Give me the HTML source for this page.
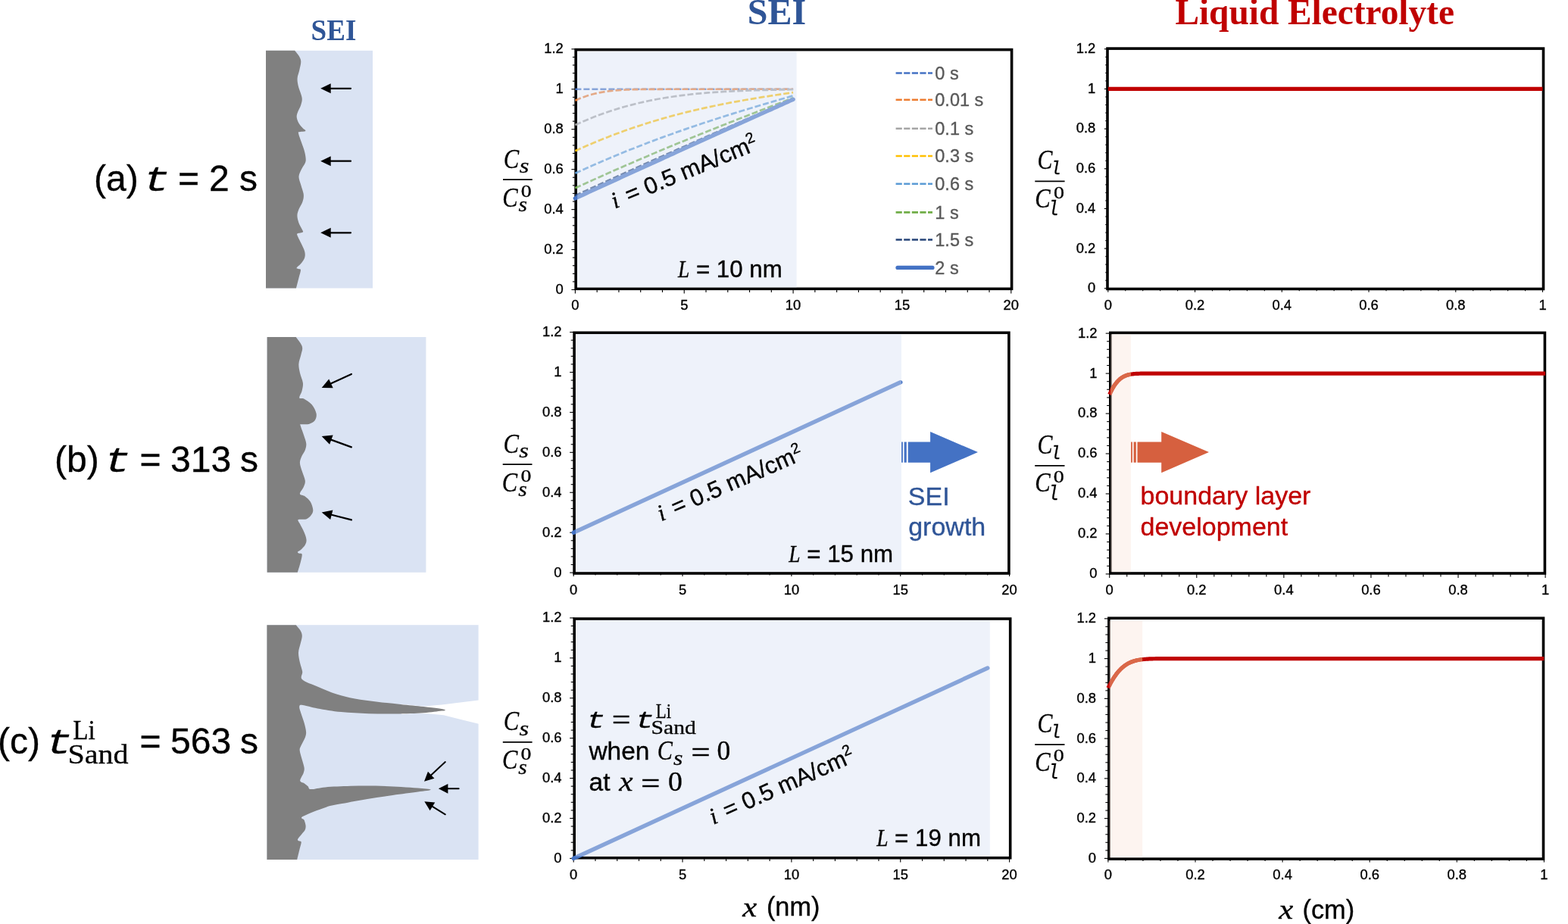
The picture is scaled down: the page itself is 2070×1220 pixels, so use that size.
<!DOCTYPE html>
<html><head><meta charset="utf-8"><title>SEI and liquid electrolyte concentration profiles</title>
<style>html,body{margin:0;padding:0;background:#fff;width:2070px;height:1220px;overflow:hidden;} svg{display:block;}</style></head>
<body><svg width="2070" height="1220" viewBox="0 0 2070 1220">
<rect width="2070" height="1220" fill="#fff"/>
<rect x="351" y="66.8" width="141" height="313.7" fill="#DAE3F3"/><path d="M351,66.8 L389.2,66.8 C390.22,68.15 393.95,72.43 395.3,74.9 C396.65,77.37 397.3,78.68 397.3,81.6 C397.3,84.52 396.08,88.8 395.3,92.4 C394.52,96 392.83,99.58 392.6,103.2 C392.37,106.82 392.9,109.82 393.9,114.1 C394.9,118.38 398.03,124.85 398.6,128.9 C399.17,132.95 398.3,135.02 397.3,138.4 C396.3,141.78 393.5,146.27 392.6,149.2 C391.7,152.13 391.45,153.52 391.9,156 C392.35,158.48 393.95,161.85 395.3,164.1 C396.65,166.35 398.65,168.15 400,169.5 C401.35,170.85 403.15,171.52 403.4,172.2 C403.65,172.88 402.85,173.27 401.5,173.6 C400.15,173.93 396.57,173.88 395.3,174.2 C394.03,174.52 393.68,173.82 393.9,175.5 C394.12,177.18 395.35,180.58 396.6,184.3 C397.85,188.02 400.23,193.75 401.4,197.8 C402.57,201.85 403.35,205.73 403.6,208.6 C403.85,211.47 403.83,212.53 402.9,215 C401.97,217.47 399.4,220.38 398,223.4 C396.6,226.42 394.62,229.63 394.5,233.1 C394.38,236.57 396.25,240.25 397.3,244.2 C398.35,248.15 400.45,253.08 400.8,256.8 C401.15,260.52 400.45,263.25 399.4,266.5 C398.35,269.75 395.67,273.28 394.5,276.3 C393.33,279.32 392.4,281.58 392.4,284.6 C392.4,287.62 393.45,291.38 394.5,294.4 C395.55,297.42 397.82,300.67 398.7,302.7 C399.58,304.73 400.73,305.67 399.8,306.6 C398.87,307.53 394.33,307.67 393.1,308.3 C391.87,308.93 391.7,308.32 392.4,310.4 C393.1,312.48 395.67,317.2 397.3,320.8 C398.93,324.4 401.38,328.75 402.2,332 C403.02,335.25 402.9,337.75 402.2,340.3 C401.5,342.85 399.75,345.08 398,347.3 C396.25,349.52 392.4,352.32 391.7,353.6 C391,354.88 392.92,354.53 393.8,355 C394.68,355.47 396.88,354.43 397,356.4 C397.12,358.37 395.5,362.78 394.5,366.8 C393.5,370.82 391.58,378.22 391,380.5 L351,380.5 Z" fill="#808080"/>
<line x1="463" y1="116.8" x2="435.7" y2="116.8" stroke="#000" stroke-width="2.2" stroke-linecap="round"/><polygon points="423.2,116.8 436.7,110.3 436.7,123.3" fill="#000"/>
<line x1="463" y1="212.7" x2="435.7" y2="212.7" stroke="#000" stroke-width="2.2" stroke-linecap="round"/><polygon points="423.2,212.7 436.7,206.2 436.7,219.2" fill="#000"/>
<line x1="463" y1="307.3" x2="435.7" y2="307.3" stroke="#000" stroke-width="2.2" stroke-linecap="round"/><polygon points="423.2,307.3 436.7,300.8 436.7,313.8" fill="#000"/>
<rect x="352.6" y="445" width="209.8" height="310.8" fill="#DAE3F3"/><path d="M352.6,445 L390.7,445 C391.68,446.35 395.18,450.65 396.6,453.1 C398.02,455.55 399.08,457.08 399.2,459.7 C399.32,462.32 398.1,465.32 397.3,468.8 C396.5,472.28 394.62,476.67 394.4,480.6 C394.18,484.53 395.08,488.25 396,492.4 C396.92,496.55 399.47,501.57 399.9,505.5 C400.33,509.43 399.37,512.72 398.6,516 C397.83,519.28 394.87,523.45 395.3,525.2 C395.73,526.95 398.47,524.98 401.2,526.5 C403.93,528.02 408.97,531.03 411.7,534.3 C414.43,537.57 416.95,542.6 417.6,546.1 C418.25,549.6 417.23,553 415.6,555.3 C413.97,557.6 410.85,559.07 407.8,559.9 C404.75,560.73 399.17,559.98 397.3,560.3 C395.43,560.62 395.95,559.37 396.6,561.8 C397.25,564.23 399.92,570.87 401.2,574.9 C402.48,578.93 404.08,582.65 404.3,586 C404.52,589.35 403.47,592.33 402.5,595 C401.53,597.67 399.6,599.35 398.5,602 C397.4,604.65 395.87,607.57 395.9,610.9 C395.93,614.23 397.55,618.07 398.7,622 C399.85,625.93 402.45,631.02 402.8,634.5 C403.15,637.98 401.95,639.98 400.8,642.9 C399.65,645.82 395.57,649.92 395.9,652 C396.23,654.08 400.48,653.67 402.8,655.4 C405.12,657.13 408.05,659.38 409.8,662.4 C411.55,665.42 413.18,670.48 413.3,673.5 C413.42,676.52 412.02,678.52 410.5,680.5 C408.98,682.48 406.98,684.47 404.2,685.4 C401.42,686.33 395.18,685.07 393.8,686.1 C392.42,687.13 394.62,688.82 395.9,691.6 C397.18,694.38 400.07,699.32 401.5,702.8 C402.93,706.28 404.28,709.72 404.5,712.5 C404.72,715.28 404,717.3 402.8,719.5 C401.6,721.7 398.92,724.2 397.3,725.7 C395.68,727.2 393.57,727.68 393.1,728.5 C392.63,729.32 393.57,730.02 394.5,730.6 C395.43,731.18 398.35,729.92 398.7,732 C399.05,734.08 397.58,739.13 396.6,743.1 C395.62,747.07 393.43,753.68 392.8,755.8 L352.6,755.8 Z" fill="#808080"/>
<line x1="463.9" y1="493.9" x2="436.05" y2="506.76" stroke="#000" stroke-width="2.2" stroke-linecap="round"/><polygon points="424.7,512 434.23,500.44 439.68,512.24" fill="#000"/>
<line x1="463.9" y1="590.4" x2="436.44" y2="580.38" stroke="#000" stroke-width="2.2" stroke-linecap="round"/><polygon points="424.7,576.1 439.61,574.62 435.15,586.83" fill="#000"/>
<line x1="463.9" y1="686.4" x2="436.81" y2="679.49" stroke="#000" stroke-width="2.2" stroke-linecap="round"/><polygon points="424.7,676.4 439.39,673.44 436.17,686.04" fill="#000"/>
<rect x="352.4" y="825.2" width="279.2" height="309.8" fill="#DAE3F3"/><path d="M632,924.4 L607.4,927.4 L583.2,930.5 L559,932.4 L530,929.8 L530,943 L547,941.9 L565.1,942.2 L585.7,944.3 L607.4,949.8 L632,955.8 Z" fill="#fff"/><path d="M352.4,825.2 L390.7,825.2 C391.68,826.4 395.25,829.98 396.6,832.4 C397.95,834.82 398.8,836.75 398.8,839.7 C398.8,842.65 397.4,846.4 396.6,850.1 C395.8,853.8 394.1,857.75 394,861.9 C393.9,866.05 395.13,870.85 396,875 C396.87,879.15 398.68,883.1 399.2,886.8 C399.72,890.5 395.6,893.85 399.1,897.2 C402.6,900.55 412.67,903.67 420.2,906.9 C427.73,910.13 436.25,913.98 444.3,916.6 C452.35,919.22 459.43,920.9 468.5,922.6 C477.57,924.3 488.63,925.58 498.7,926.8 C508.77,928.02 518.83,928.88 528.9,929.9 C538.97,930.92 550.85,932 559.1,932.9 C567.35,933.8 573.67,934.57 578.4,935.3 C583.13,936.03 586.7,936.75 587.5,937.3 C588.3,937.85 587.93,937.93 583.2,938.6 C578.47,939.27 569.17,940.65 559.1,941.3 C549.03,941.95 534.88,942.35 522.8,942.5 C510.72,942.65 498.67,942.6 486.6,942.2 C474.53,941.8 461.62,941.23 450.4,940.1 C439.18,938.97 427.75,936.92 419.3,935.4 C410.85,933.88 403.72,931.4 399.7,931 C395.68,930.6 395.53,931.03 395.2,933 C394.87,934.97 396.63,939.2 397.7,942.8 C398.77,946.4 400.53,950.67 401.6,954.6 C402.67,958.53 403.93,963.12 404.1,966.4 C404.27,969.68 403.75,971.18 402.6,974.3 C401.45,977.42 398.35,982.32 397.2,985.1 C396.05,987.88 395.45,988.05 395.7,991 C395.95,993.95 397.72,999.03 398.7,1002.8 C399.68,1006.57 401.27,1010.65 401.6,1013.6 C401.93,1016.55 401.6,1017.63 400.7,1020.5 C399.8,1023.37 396.05,1028.5 396.2,1030.8 C396.35,1033.1 399.87,1033.07 401.6,1034.3 C403.33,1035.53 405.12,1036.9 406.6,1038.2 C408.08,1039.5 406.7,1041.9 410.5,1042.1 C414.3,1042.3 420.68,1040.12 429.4,1039.4 C438.12,1038.68 451.68,1038.1 462.8,1037.8 C473.92,1037.5 485,1037.42 496.1,1037.6 C507.2,1037.78 520.13,1038.4 529.4,1038.9 C538.67,1039.4 545.12,1039.95 551.7,1040.6 C558.28,1041.25 568.9,1041.97 568.9,1042.8 C568.9,1043.63 560.13,1044.4 551.7,1045.6 C543.27,1046.8 529.42,1048.43 518.3,1050 C507.18,1051.57 496.1,1053.15 485,1055 C473.9,1056.85 460.87,1059.28 451.7,1061.1 C442.53,1062.92 438.67,1063.08 430,1065.9 C421.33,1068.72 404.42,1075.15 399.7,1078 C394.98,1080.85 401.05,1080.97 401.7,1083 C402.35,1085.03 403.45,1088.02 403.6,1090.2 C403.75,1092.38 403.47,1094.25 402.6,1096.1 C401.73,1097.95 399.98,1099.33 398.4,1101.3 C396.82,1103.27 393.77,1106.42 393.1,1107.9 C392.43,1109.38 393.63,1109.55 394.4,1110.2 C395.17,1110.85 397.48,1110.1 397.7,1111.8 C397.92,1113.5 396.62,1116.53 395.7,1120.4 C394.78,1124.27 392.78,1132.57 392.2,1135 L352.4,1135 Z" fill="#808080"/>
<line x1="587.8" y1="1006.1" x2="568.46" y2="1023.91" stroke="#000" stroke-width="2" stroke-linecap="round"/><polygon points="560,1031.7 564.96,1018.63 573.43,1027.83" fill="#000"/>
<line x1="605.6" y1="1041.3" x2="590.4" y2="1041.3" stroke="#000" stroke-width="2" stroke-linecap="round"/><polygon points="578.9,1041.3 591.4,1034.9 591.4,1047.7" fill="#000"/>
<line x1="587.8" y1="1075.3" x2="570.08" y2="1064.35" stroke="#000" stroke-width="2" stroke-linecap="round"/><polygon points="560.3,1058.3 574.22,1059.56 567.65,1070.19" fill="#000"/>
<text x="986.7" y="32.2" font-family="'Liberation Serif', 'Times New Roman', Times, serif" font-weight="bold" font-size="48" fill="#2F5597">SEI</text>
<text transform="translate(1551.4,32.2) scale(0.986,1)" font-family="'Liberation Serif', 'Times New Roman', Times, serif" font-weight="bold" font-size="48" fill="#C00000">Liquid Electrolyte</text>
<text transform="translate(410.6,52.85) scale(0.95,1)" font-family="'Liberation Serif', 'Times New Roman', Times, serif" font-weight="bold" font-size="39" fill="#2F5597">SEI</text>
<text y="252.2" font-family="'Liberation Sans', Arial, Helvetica, sans-serif" font-size="48" fill="#000" stroke="#000" stroke-width="0.35"><tspan x="124">(a)</tspan><tspan x="235">=</tspan><tspan x="276">2</tspan><tspan x="316">s</tspan></text>
<text transform="translate(188.83,252.34) scale(1.300,1)" font-family="'Liberation Mono', 'Courier New', monospace" font-style="italic" font-size="45.97" fill="#000" stroke="#000" stroke-width="0.3">t</text>
<text y="623" font-family="'Liberation Sans', Arial, Helvetica, sans-serif" font-size="48" fill="#000" stroke="#000" stroke-width="0.35"><tspan x="72">(b)</tspan><tspan x="184.5">=</tspan><tspan x="225">313</tspan><tspan x="317">s</tspan></text>
<text transform="translate(137.27,623.14) scale(1.300,1)" font-family="'Liberation Mono', 'Courier New', monospace" font-style="italic" font-size="45.52" fill="#000" stroke="#000" stroke-width="0.3">t</text>
<text y="995" font-family="'Liberation Sans', Arial, Helvetica, sans-serif" font-size="48" fill="#000" stroke="#000" stroke-width="0.35"><tspan x="-3">(c)</tspan><tspan x="184.5">=</tspan><tspan x="225">563</tspan><tspan x="317">s</tspan></text>
<text transform="translate(60.33,995.35) scale(1.300,1)" font-family="'Liberation Mono', 'Courier New', monospace" font-style="italic" font-size="45.37" fill="#000" stroke="#000" stroke-width="0.3">t</text>
<text transform="translate(96.20,976.40) scale(0.911,1)" font-family="'Liberation Serif', 'Times New Roman', Times, serif" font-style="normal" font-size="36.46" fill="#000" stroke="#000" stroke-width="0.3">Li</text>
<text transform="translate(89.40,1007.80) scale(1.142,1)" font-family="'Liberation Serif', 'Times New Roman', Times, serif" font-style="normal" font-size="35.07" fill="#000" stroke="#000" stroke-width="0.3">Sand</text>
<line x1="754.4" y1="382.5" x2="760.15" y2="382.5" stroke="#000" stroke-width="1.1"/><line x1="755.9" y1="371.91" x2="760.15" y2="371.91" stroke="#000" stroke-width="1.1"/><line x1="755.9" y1="361.32" x2="760.15" y2="361.32" stroke="#000" stroke-width="1.1"/><line x1="755.9" y1="350.73" x2="760.15" y2="350.73" stroke="#000" stroke-width="1.1"/><line x1="755.9" y1="340.14" x2="760.15" y2="340.14" stroke="#000" stroke-width="1.1"/><line x1="754.4" y1="329.55" x2="760.15" y2="329.55" stroke="#000" stroke-width="1.1"/><line x1="755.9" y1="318.96" x2="760.15" y2="318.96" stroke="#000" stroke-width="1.1"/><line x1="755.9" y1="308.37" x2="760.15" y2="308.37" stroke="#000" stroke-width="1.1"/><line x1="755.9" y1="297.78" x2="760.15" y2="297.78" stroke="#000" stroke-width="1.1"/><line x1="755.9" y1="287.19" x2="760.15" y2="287.19" stroke="#000" stroke-width="1.1"/><line x1="754.4" y1="276.6" x2="760.15" y2="276.6" stroke="#000" stroke-width="1.1"/><line x1="755.9" y1="266.01" x2="760.15" y2="266.01" stroke="#000" stroke-width="1.1"/><line x1="755.9" y1="255.42" x2="760.15" y2="255.42" stroke="#000" stroke-width="1.1"/><line x1="755.9" y1="244.83" x2="760.15" y2="244.83" stroke="#000" stroke-width="1.1"/><line x1="755.9" y1="234.24" x2="760.15" y2="234.24" stroke="#000" stroke-width="1.1"/><line x1="754.4" y1="223.65" x2="760.15" y2="223.65" stroke="#000" stroke-width="1.1"/><line x1="755.9" y1="213.06" x2="760.15" y2="213.06" stroke="#000" stroke-width="1.1"/><line x1="755.9" y1="202.47" x2="760.15" y2="202.47" stroke="#000" stroke-width="1.1"/><line x1="755.9" y1="191.88" x2="760.15" y2="191.88" stroke="#000" stroke-width="1.1"/><line x1="755.9" y1="181.29" x2="760.15" y2="181.29" stroke="#000" stroke-width="1.1"/><line x1="754.4" y1="170.7" x2="760.15" y2="170.7" stroke="#000" stroke-width="1.1"/><line x1="755.9" y1="160.11" x2="760.15" y2="160.11" stroke="#000" stroke-width="1.1"/><line x1="755.9" y1="149.52" x2="760.15" y2="149.52" stroke="#000" stroke-width="1.1"/><line x1="755.9" y1="138.93" x2="760.15" y2="138.93" stroke="#000" stroke-width="1.1"/><line x1="755.9" y1="128.34" x2="760.15" y2="128.34" stroke="#000" stroke-width="1.1"/><line x1="754.4" y1="117.75" x2="760.15" y2="117.75" stroke="#000" stroke-width="1.1"/><line x1="755.9" y1="107.16" x2="760.15" y2="107.16" stroke="#000" stroke-width="1.1"/><line x1="755.9" y1="96.57" x2="760.15" y2="96.57" stroke="#000" stroke-width="1.1"/><line x1="755.9" y1="85.98" x2="760.15" y2="85.98" stroke="#000" stroke-width="1.1"/><line x1="755.9" y1="75.39" x2="760.15" y2="75.39" stroke="#000" stroke-width="1.1"/><line x1="754.4" y1="64.8" x2="760.15" y2="64.8" stroke="#000" stroke-width="1.1"/><line x1="759.4" y1="381.35" x2="759.4" y2="387.5" stroke="#000" stroke-width="1.1"/><line x1="788.17" y1="381.35" x2="788.17" y2="386" stroke="#000" stroke-width="1.1"/><line x1="816.94" y1="381.35" x2="816.94" y2="386" stroke="#000" stroke-width="1.1"/><line x1="845.71" y1="381.35" x2="845.71" y2="386" stroke="#000" stroke-width="1.1"/><line x1="874.48" y1="381.35" x2="874.48" y2="386" stroke="#000" stroke-width="1.1"/><line x1="903.25" y1="381.35" x2="903.25" y2="387.5" stroke="#000" stroke-width="1.1"/><line x1="932.02" y1="381.35" x2="932.02" y2="386" stroke="#000" stroke-width="1.1"/><line x1="960.79" y1="381.35" x2="960.79" y2="386" stroke="#000" stroke-width="1.1"/><line x1="989.56" y1="381.35" x2="989.56" y2="386" stroke="#000" stroke-width="1.1"/><line x1="1018.33" y1="381.35" x2="1018.33" y2="386" stroke="#000" stroke-width="1.1"/><line x1="1047.1" y1="381.35" x2="1047.1" y2="387.5" stroke="#000" stroke-width="1.1"/><line x1="1075.87" y1="381.35" x2="1075.87" y2="386" stroke="#000" stroke-width="1.1"/><line x1="1104.64" y1="381.35" x2="1104.64" y2="386" stroke="#000" stroke-width="1.1"/><line x1="1133.41" y1="381.35" x2="1133.41" y2="386" stroke="#000" stroke-width="1.1"/><line x1="1162.18" y1="381.35" x2="1162.18" y2="386" stroke="#000" stroke-width="1.1"/><line x1="1190.95" y1="381.35" x2="1190.95" y2="387.5" stroke="#000" stroke-width="1.1"/><line x1="1219.72" y1="381.35" x2="1219.72" y2="386" stroke="#000" stroke-width="1.1"/><line x1="1248.49" y1="381.35" x2="1248.49" y2="386" stroke="#000" stroke-width="1.1"/><line x1="1277.26" y1="381.35" x2="1277.26" y2="386" stroke="#000" stroke-width="1.1"/><line x1="1306.03" y1="381.35" x2="1306.03" y2="386" stroke="#000" stroke-width="1.1"/><line x1="1334.8" y1="381.35" x2="1334.8" y2="387.5" stroke="#000" stroke-width="1.1"/><rect x="760.15" y="65.6" width="575.45" height="315.75" fill="none" stroke="#000" stroke-width="3.6"/>
<g font-family="'Liberation Sans', Arial, Helvetica, sans-serif" font-size="18.4" fill="#000" stroke="#000" stroke-width="0.35"><text x="743.8" y="387.9" text-anchor="end">0</text><text x="743.8" y="334.95" text-anchor="end">0.2</text><text x="743.8" y="282" text-anchor="end">0.4</text><text x="743.8" y="229.05" text-anchor="end">0.6</text><text x="743.8" y="176.1" text-anchor="end">0.8</text><text x="743.8" y="123.15" text-anchor="end">1</text><text x="743.8" y="70.2" text-anchor="end">1.2</text><text x="759.4" y="408.7" text-anchor="middle">0</text><text x="903.25" y="408.7" text-anchor="middle">5</text><text x="1047.1" y="408.7" text-anchor="middle">10</text><text x="1190.95" y="408.7" text-anchor="middle">15</text><text x="1334.8" y="408.7" text-anchor="middle">20</text></g>
<polyline points="759.4,117.75 1047.1,117.75" fill="none" stroke="#4472C4" stroke-width="2.7" stroke-dasharray="8 3"/>
<polyline points="759.4,132.69 762.28,131.4 766.59,129.61 769.47,128.51 773.78,126.99 776.66,126.07 780.98,124.81 783.85,124.05 788.17,123.03 791.05,122.43 795.36,121.62 798.24,121.15 802.55,120.52 805.43,120.16 809.75,119.69 812.62,119.42 816.94,119.08 819.82,118.88 824.13,118.64 827.01,118.5 831.32,118.33 834.2,118.23 838.52,118.12 841.39,118.05 845.71,117.98 848.59,117.94 852.9,117.89 855.78,117.86 860.1,117.83 862.97,117.82 867.29,117.8 870.16,117.79 874.48,117.78 877.36,117.77 881.67,117.76 884.55,117.76 888.87,117.76 891.74,117.76 896.06,117.75 898.93,117.75 903.25,117.75 906.13,117.75 910.44,117.75 913.32,117.75 917.63,117.75 920.51,117.75 924.83,117.75 927.7,117.75 932.02,117.75 934.9,117.75 939.21,117.75 942.09,117.75 946.4,117.75 949.28,117.75 953.6,117.75 956.47,117.75 960.79,117.75 963.67,117.75 967.98,117.75 970.86,117.75 975.17,117.75 978.05,117.75 982.37,117.75 985.24,117.75 989.56,117.75 992.44,117.75 996.75,117.75 999.63,117.75 1003.94,117.75 1006.82,117.75 1011.14,117.75 1014.01,117.75 1018.33,117.75 1021.21,117.75 1025.52,117.75 1028.4,117.75 1032.71,117.75 1035.59,117.75 1039.91,117.75 1042.78,117.75 1047.1,117.75" fill="none" stroke="#ED7D31" stroke-width="2.7" stroke-dasharray="8 3"/>
<polyline points="759.4,164.98 762.28,163.67 766.59,161.75 769.47,160.5 773.78,158.66 776.66,157.47 780.98,155.72 783.85,154.58 788.17,152.92 791.05,151.84 795.36,150.27 798.24,149.25 802.55,147.76 805.43,146.8 809.75,145.39 812.62,144.48 816.94,143.16 819.82,142.3 824.13,141.06 827.01,140.25 831.32,139.08 834.2,138.33 838.52,137.24 841.39,136.54 845.71,135.52 848.59,134.86 852.9,133.91 855.78,133.3 860.1,132.42 862.97,131.86 867.29,131.04 870.16,130.52 874.48,129.76 877.36,129.28 881.67,128.58 884.55,128.14 888.87,127.5 891.74,127.09 896.06,126.5 898.93,126.13 903.25,125.59 906.13,125.25 910.44,124.75 913.32,124.44 917.63,123.99 920.51,123.71 924.83,123.3 927.7,123.05 932.02,122.68 934.9,122.45 939.21,122.11 942.09,121.9 946.4,121.6 949.28,121.41 953.6,121.14 956.47,120.97 960.79,120.73 963.67,120.58 967.98,120.36 970.86,120.22 975.17,120.03 978.05,119.91 982.37,119.73 985.24,119.63 989.56,119.47 992.44,119.38 996.75,119.24 999.63,119.15 1003.94,119.03 1006.82,118.95 1011.14,118.85 1014.01,118.78 1018.33,118.68 1021.21,118.62 1025.52,118.54 1028.4,118.48 1032.71,118.4 1035.59,118.36 1039.91,118.29 1042.78,118.24 1047.1,118.18" fill="none" stroke="#A5A5A5" stroke-width="2.7" stroke-dasharray="8 3"/>
<polyline points="759.4,199.31 762.28,198 766.59,196.04 769.47,194.76 773.78,192.86 776.66,191.61 780.98,189.76 783.85,188.54 788.17,186.73 791.05,185.55 795.36,183.79 798.24,182.64 802.55,180.93 805.43,179.81 809.75,178.15 812.62,177.06 816.94,175.45 819.82,174.4 824.13,172.83 827.01,171.81 831.32,170.29 834.2,169.3 838.52,167.83 841.39,166.86 845.71,165.44 848.59,164.5 852.9,163.12 855.78,162.21 860.1,160.88 862.97,160 867.29,158.71 870.16,157.86 874.48,156.61 877.36,155.79 881.67,154.58 884.55,153.78 888.87,152.61 891.74,151.85 896.06,150.71 898.93,149.97 903.25,148.88 906.13,148.16 910.44,147.1 913.32,146.41 917.63,145.39 920.51,144.72 924.83,143.73 927.7,143.09 932.02,142.13 934.9,141.51 939.21,140.58 942.09,139.98 946.4,139.09 949.28,138.5 953.6,137.64 956.47,137.07 960.79,136.24 963.67,135.69 967.98,134.88 970.86,134.35 975.17,133.56 978.05,133.04 982.37,132.28 985.24,131.78 989.56,131.04 992.44,130.55 996.75,129.83 999.63,129.36 1003.94,128.65 1006.82,128.19 1011.14,127.5 1014.01,127.05 1018.33,126.38 1021.21,125.94 1025.52,125.28 1028.4,124.85 1032.71,124.2 1035.59,123.77 1039.91,123.14 1042.78,122.71 1047.1,122.09" fill="none" stroke="#FFC000" stroke-width="2.7" stroke-dasharray="8 3"/>
<polyline points="759.4,228.77 762.28,227.45 766.59,225.48 769.47,224.18 773.78,222.24 776.66,220.95 780.98,219.04 783.85,217.77 788.17,215.88 791.05,214.64 795.36,212.77 798.24,211.54 802.55,209.71 805.43,208.49 809.75,206.69 812.62,205.49 816.94,203.71 819.82,202.53 824.13,200.77 827.01,199.61 831.32,197.87 834.2,196.73 838.52,195.02 841.39,193.89 845.71,192.21 848.59,191.1 852.9,189.44 855.78,188.34 860.1,186.71 862.97,185.63 867.29,184.01 870.16,182.95 874.48,181.36 877.36,180.31 881.67,178.74 884.55,177.71 888.87,176.16 891.74,175.14 896.06,173.62 898.93,172.61 903.25,171.11 906.13,170.12 910.44,168.63 913.32,167.65 917.63,166.19 920.51,165.22 924.83,163.78 927.7,162.82 932.02,161.4 934.9,160.45 939.21,159.05 942.09,158.11 946.4,156.72 949.28,155.8 953.6,154.42 956.47,153.51 960.79,152.15 963.67,151.25 967.98,149.9 970.86,149.01 975.17,147.68 978.05,146.8 982.37,145.48 985.24,144.6 989.56,143.29 992.44,142.43 996.75,141.13 999.63,140.27 1003.94,138.98 1006.82,138.13 1011.14,136.85 1014.01,136 1018.33,134.73 1021.21,133.89 1025.52,132.63 1028.4,131.79 1032.71,130.53 1035.59,129.7 1039.91,128.45 1042.78,127.62 1047.1,126.37" fill="none" stroke="#5B9BD5" stroke-width="2.7" stroke-dasharray="8 3"/>
<polyline points="759.4,248.28 762.28,246.96 766.59,244.98 769.47,243.67 773.78,241.7 776.66,240.39 780.98,238.44 783.85,237.14 788.17,235.2 791.05,233.91 795.36,231.98 798.24,230.7 802.55,228.78 805.43,227.5 809.75,225.6 812.62,224.33 816.94,222.43 819.82,221.17 824.13,219.29 827.01,218.04 831.32,216.16 834.2,214.92 838.52,213.06 841.39,211.82 845.71,209.97 848.59,208.74 852.9,206.9 855.78,205.68 860.1,203.85 862.97,202.63 867.29,200.81 870.16,199.6 874.48,197.79 877.36,196.59 881.67,194.79 884.55,193.6 888.87,191.81 891.74,190.62 896.06,188.84 898.93,187.65 903.25,185.88 906.13,184.71 910.44,182.95 913.32,181.77 917.63,180.02 920.51,178.86 924.83,177.11 927.7,175.95 932.02,174.21 934.9,173.06 939.21,171.33 942.09,170.18 946.4,168.46 949.28,167.31 953.6,165.6 956.47,164.46 960.79,162.75 963.67,161.61 967.98,159.91 970.86,158.78 975.17,157.09 978.05,155.96 982.37,154.27 985.24,153.14 989.56,151.46 992.44,150.34 996.75,148.66 999.63,147.54 1003.94,145.87 1006.82,144.75 1011.14,143.08 1014.01,141.97 1018.33,140.3 1021.21,139.19 1025.52,137.53 1028.4,136.42 1032.71,134.76 1035.59,133.65 1039.91,131.99 1042.78,130.89 1047.1,129.23" fill="none" stroke="#70AD47" stroke-width="2.7" stroke-dasharray="8 3"/>
<polyline points="759.4,258.23 762.28,256.9 766.59,254.92 769.47,253.6 773.78,251.62 776.66,250.3 780.98,248.33 783.85,247.02 788.17,245.05 791.05,243.73 795.36,241.77 798.24,240.46 802.55,238.5 805.43,237.19 809.75,235.24 812.62,233.93 816.94,231.98 819.82,230.68 824.13,228.73 827.01,227.43 831.32,225.49 834.2,224.19 838.52,222.25 841.39,220.96 845.71,219.02 848.59,217.73 852.9,215.8 855.78,214.51 860.1,212.58 862.97,211.3 867.29,209.37 870.16,208.09 874.48,206.17 877.36,204.89 881.67,202.97 884.55,201.7 888.87,199.78 891.74,198.51 896.06,196.6 898.93,195.32 903.25,193.41 906.13,192.14 910.44,190.24 913.32,188.97 917.63,187.07 920.51,185.8 924.83,183.91 927.7,182.64 932.02,180.75 934.9,179.48 939.21,177.59 942.09,176.33 946.4,174.44 949.28,173.18 953.6,171.29 956.47,170.04 960.79,168.15 963.67,166.9 967.98,165.01 970.86,163.76 975.17,161.88 978.05,160.63 982.37,158.75 985.24,157.5 989.56,155.62 992.44,154.37 996.75,152.5 999.63,151.25 1003.94,149.37 1006.82,148.13 1011.14,146.25 1014.01,145.01 1018.33,143.14 1021.21,141.89 1025.52,140.02 1028.4,138.78 1032.71,136.91 1035.59,135.66 1039.91,133.8 1042.78,132.55 1047.1,130.69" fill="none" stroke="#264478" stroke-width="2.7" stroke-dasharray="8 3"/>
<polyline points="759.4,261.84 762.28,260.51 766.59,258.53 769.47,257.21 773.78,255.22 776.66,253.9 780.98,251.92 783.85,250.6 788.17,248.62 791.05,247.3 795.36,245.32 798.24,244 802.55,242.03 805.43,240.71 809.75,238.73 812.62,237.42 816.94,235.44 819.82,234.13 824.13,232.16 827.01,230.84 831.32,228.87 834.2,227.56 838.52,225.59 841.39,224.28 845.71,222.31 848.59,221 852.9,219.03 855.78,217.72 860.1,215.75 862.97,214.45 867.29,212.48 870.16,211.17 874.48,209.21 877.36,207.9 881.67,205.94 884.55,204.63 888.87,202.67 891.74,201.37 896.06,199.41 898.93,198.1 903.25,196.15 906.13,194.84 910.44,192.89 913.32,191.58 917.63,189.63 920.51,188.33 924.83,186.37 927.7,185.07 932.02,183.12 934.9,181.82 939.21,179.86 942.09,178.56 946.4,176.61 949.28,175.31 953.6,173.36 956.47,172.06 960.79,170.11 963.67,168.81 967.98,166.87 970.86,165.57 975.17,163.62 978.05,162.32 982.37,160.37 985.24,159.08 989.56,157.13 992.44,155.83 996.75,153.89 999.63,152.59 1003.94,150.65 1006.82,149.35 1011.14,147.41 1014.01,146.11 1018.33,144.17 1021.21,142.87 1025.52,140.93 1028.4,139.63 1032.71,137.69 1035.59,136.4 1039.91,134.45 1042.78,133.16 1047.1,131.22" fill="none" stroke="#4472C4" stroke-width="5.4" stroke-linecap="round"/>
<rect x="762.2" y="68.3" width="289.4" height="311.2" fill="#DAE3F3" fill-opacity="0.45"/>
<line x1="752.2" y1="756.1" x2="758.1" y2="756.1" stroke="#000" stroke-width="1.1"/><line x1="753.7" y1="745.52" x2="758.1" y2="745.52" stroke="#000" stroke-width="1.1"/><line x1="753.7" y1="734.93" x2="758.1" y2="734.93" stroke="#000" stroke-width="1.1"/><line x1="753.7" y1="724.35" x2="758.1" y2="724.35" stroke="#000" stroke-width="1.1"/><line x1="753.7" y1="713.76" x2="758.1" y2="713.76" stroke="#000" stroke-width="1.1"/><line x1="752.2" y1="703.18" x2="758.1" y2="703.18" stroke="#000" stroke-width="1.1"/><line x1="753.7" y1="692.6" x2="758.1" y2="692.6" stroke="#000" stroke-width="1.1"/><line x1="753.7" y1="682.01" x2="758.1" y2="682.01" stroke="#000" stroke-width="1.1"/><line x1="753.7" y1="671.43" x2="758.1" y2="671.43" stroke="#000" stroke-width="1.1"/><line x1="753.7" y1="660.84" x2="758.1" y2="660.84" stroke="#000" stroke-width="1.1"/><line x1="752.2" y1="650.26" x2="758.1" y2="650.26" stroke="#000" stroke-width="1.1"/><line x1="753.7" y1="639.68" x2="758.1" y2="639.68" stroke="#000" stroke-width="1.1"/><line x1="753.7" y1="629.09" x2="758.1" y2="629.09" stroke="#000" stroke-width="1.1"/><line x1="753.7" y1="618.51" x2="758.1" y2="618.51" stroke="#000" stroke-width="1.1"/><line x1="753.7" y1="607.92" x2="758.1" y2="607.92" stroke="#000" stroke-width="1.1"/><line x1="752.2" y1="597.34" x2="758.1" y2="597.34" stroke="#000" stroke-width="1.1"/><line x1="753.7" y1="586.76" x2="758.1" y2="586.76" stroke="#000" stroke-width="1.1"/><line x1="753.7" y1="576.17" x2="758.1" y2="576.17" stroke="#000" stroke-width="1.1"/><line x1="753.7" y1="565.59" x2="758.1" y2="565.59" stroke="#000" stroke-width="1.1"/><line x1="753.7" y1="555" x2="758.1" y2="555" stroke="#000" stroke-width="1.1"/><line x1="752.2" y1="544.42" x2="758.1" y2="544.42" stroke="#000" stroke-width="1.1"/><line x1="753.7" y1="533.84" x2="758.1" y2="533.84" stroke="#000" stroke-width="1.1"/><line x1="753.7" y1="523.25" x2="758.1" y2="523.25" stroke="#000" stroke-width="1.1"/><line x1="753.7" y1="512.67" x2="758.1" y2="512.67" stroke="#000" stroke-width="1.1"/><line x1="753.7" y1="502.08" x2="758.1" y2="502.08" stroke="#000" stroke-width="1.1"/><line x1="752.2" y1="491.5" x2="758.1" y2="491.5" stroke="#000" stroke-width="1.1"/><line x1="753.7" y1="480.92" x2="758.1" y2="480.92" stroke="#000" stroke-width="1.1"/><line x1="753.7" y1="470.33" x2="758.1" y2="470.33" stroke="#000" stroke-width="1.1"/><line x1="753.7" y1="459.75" x2="758.1" y2="459.75" stroke="#000" stroke-width="1.1"/><line x1="753.7" y1="449.16" x2="758.1" y2="449.16" stroke="#000" stroke-width="1.1"/><line x1="752.2" y1="438.58" x2="758.1" y2="438.58" stroke="#000" stroke-width="1.1"/><line x1="757.2" y1="757" x2="757.2" y2="761.1" stroke="#000" stroke-width="1.1"/><line x1="785.97" y1="757" x2="785.97" y2="759.6" stroke="#000" stroke-width="1.1"/><line x1="814.74" y1="757" x2="814.74" y2="759.6" stroke="#000" stroke-width="1.1"/><line x1="843.51" y1="757" x2="843.51" y2="759.6" stroke="#000" stroke-width="1.1"/><line x1="872.28" y1="757" x2="872.28" y2="759.6" stroke="#000" stroke-width="1.1"/><line x1="901.05" y1="757" x2="901.05" y2="761.1" stroke="#000" stroke-width="1.1"/><line x1="929.82" y1="757" x2="929.82" y2="759.6" stroke="#000" stroke-width="1.1"/><line x1="958.59" y1="757" x2="958.59" y2="759.6" stroke="#000" stroke-width="1.1"/><line x1="987.36" y1="757" x2="987.36" y2="759.6" stroke="#000" stroke-width="1.1"/><line x1="1016.13" y1="757" x2="1016.13" y2="759.6" stroke="#000" stroke-width="1.1"/><line x1="1044.9" y1="757" x2="1044.9" y2="761.1" stroke="#000" stroke-width="1.1"/><line x1="1073.67" y1="757" x2="1073.67" y2="759.6" stroke="#000" stroke-width="1.1"/><line x1="1102.44" y1="757" x2="1102.44" y2="759.6" stroke="#000" stroke-width="1.1"/><line x1="1131.21" y1="757" x2="1131.21" y2="759.6" stroke="#000" stroke-width="1.1"/><line x1="1159.98" y1="757" x2="1159.98" y2="759.6" stroke="#000" stroke-width="1.1"/><line x1="1188.75" y1="757" x2="1188.75" y2="761.1" stroke="#000" stroke-width="1.1"/><line x1="1217.52" y1="757" x2="1217.52" y2="759.6" stroke="#000" stroke-width="1.1"/><line x1="1246.29" y1="757" x2="1246.29" y2="759.6" stroke="#000" stroke-width="1.1"/><line x1="1275.06" y1="757" x2="1275.06" y2="759.6" stroke="#000" stroke-width="1.1"/><line x1="1303.83" y1="757" x2="1303.83" y2="759.6" stroke="#000" stroke-width="1.1"/><line x1="1332.6" y1="757" x2="1332.6" y2="761.1" stroke="#000" stroke-width="1.1"/><rect x="758.1" y="439.3" width="573.8" height="317.7" fill="none" stroke="#000" stroke-width="3.6"/>
<g font-family="'Liberation Sans', Arial, Helvetica, sans-serif" font-size="18.4" fill="#000" stroke="#000" stroke-width="0.35"><text x="741.6" y="761.5" text-anchor="end">0</text><text x="741.6" y="708.58" text-anchor="end">0.2</text><text x="741.6" y="655.66" text-anchor="end">0.4</text><text x="741.6" y="602.74" text-anchor="end">0.6</text><text x="741.6" y="549.82" text-anchor="end">0.8</text><text x="741.6" y="496.9" text-anchor="end">1</text><text x="741.6" y="443.98" text-anchor="end">1.2</text><text x="757.2" y="784.9" text-anchor="middle">0</text><text x="901.05" y="784.9" text-anchor="middle">5</text><text x="1044.9" y="784.9" text-anchor="middle">10</text><text x="1188.75" y="784.9" text-anchor="middle">15</text><text x="1332.6" y="784.9" text-anchor="middle">20</text></g>
<line x1="757.2" y1="703.18" x2="1188.75" y2="504.73" stroke="#4472C4" stroke-width="5.4" stroke-linecap="round"/>
<rect x="760" y="441.1" width="430" height="313.9" fill="#DAE3F3" fill-opacity="0.45"/>
<line x1="752.2" y1="1133.4" x2="758.2" y2="1133.4" stroke="#000" stroke-width="1.1"/><line x1="753.7" y1="1122.82" x2="758.2" y2="1122.82" stroke="#000" stroke-width="1.1"/><line x1="753.7" y1="1112.23" x2="758.2" y2="1112.23" stroke="#000" stroke-width="1.1"/><line x1="753.7" y1="1101.65" x2="758.2" y2="1101.65" stroke="#000" stroke-width="1.1"/><line x1="753.7" y1="1091.06" x2="758.2" y2="1091.06" stroke="#000" stroke-width="1.1"/><line x1="752.2" y1="1080.48" x2="758.2" y2="1080.48" stroke="#000" stroke-width="1.1"/><line x1="753.7" y1="1069.9" x2="758.2" y2="1069.9" stroke="#000" stroke-width="1.1"/><line x1="753.7" y1="1059.31" x2="758.2" y2="1059.31" stroke="#000" stroke-width="1.1"/><line x1="753.7" y1="1048.73" x2="758.2" y2="1048.73" stroke="#000" stroke-width="1.1"/><line x1="753.7" y1="1038.14" x2="758.2" y2="1038.14" stroke="#000" stroke-width="1.1"/><line x1="752.2" y1="1027.56" x2="758.2" y2="1027.56" stroke="#000" stroke-width="1.1"/><line x1="753.7" y1="1016.98" x2="758.2" y2="1016.98" stroke="#000" stroke-width="1.1"/><line x1="753.7" y1="1006.39" x2="758.2" y2="1006.39" stroke="#000" stroke-width="1.1"/><line x1="753.7" y1="995.81" x2="758.2" y2="995.81" stroke="#000" stroke-width="1.1"/><line x1="753.7" y1="985.22" x2="758.2" y2="985.22" stroke="#000" stroke-width="1.1"/><line x1="752.2" y1="974.64" x2="758.2" y2="974.64" stroke="#000" stroke-width="1.1"/><line x1="753.7" y1="964.06" x2="758.2" y2="964.06" stroke="#000" stroke-width="1.1"/><line x1="753.7" y1="953.47" x2="758.2" y2="953.47" stroke="#000" stroke-width="1.1"/><line x1="753.7" y1="942.89" x2="758.2" y2="942.89" stroke="#000" stroke-width="1.1"/><line x1="753.7" y1="932.3" x2="758.2" y2="932.3" stroke="#000" stroke-width="1.1"/><line x1="752.2" y1="921.72" x2="758.2" y2="921.72" stroke="#000" stroke-width="1.1"/><line x1="753.7" y1="911.14" x2="758.2" y2="911.14" stroke="#000" stroke-width="1.1"/><line x1="753.7" y1="900.55" x2="758.2" y2="900.55" stroke="#000" stroke-width="1.1"/><line x1="753.7" y1="889.97" x2="758.2" y2="889.97" stroke="#000" stroke-width="1.1"/><line x1="753.7" y1="879.38" x2="758.2" y2="879.38" stroke="#000" stroke-width="1.1"/><line x1="752.2" y1="868.8" x2="758.2" y2="868.8" stroke="#000" stroke-width="1.1"/><line x1="753.7" y1="858.22" x2="758.2" y2="858.22" stroke="#000" stroke-width="1.1"/><line x1="753.7" y1="847.63" x2="758.2" y2="847.63" stroke="#000" stroke-width="1.1"/><line x1="753.7" y1="837.05" x2="758.2" y2="837.05" stroke="#000" stroke-width="1.1"/><line x1="753.7" y1="826.46" x2="758.2" y2="826.46" stroke="#000" stroke-width="1.1"/><line x1="752.2" y1="815.88" x2="758.2" y2="815.88" stroke="#000" stroke-width="1.1"/><line x1="757.2" y1="1132.7" x2="757.2" y2="1138.4" stroke="#000" stroke-width="1.1"/><line x1="785.97" y1="1132.7" x2="785.97" y2="1136.9" stroke="#000" stroke-width="1.1"/><line x1="814.74" y1="1132.7" x2="814.74" y2="1136.9" stroke="#000" stroke-width="1.1"/><line x1="843.51" y1="1132.7" x2="843.51" y2="1136.9" stroke="#000" stroke-width="1.1"/><line x1="872.28" y1="1132.7" x2="872.28" y2="1136.9" stroke="#000" stroke-width="1.1"/><line x1="901.05" y1="1132.7" x2="901.05" y2="1138.4" stroke="#000" stroke-width="1.1"/><line x1="929.82" y1="1132.7" x2="929.82" y2="1136.9" stroke="#000" stroke-width="1.1"/><line x1="958.59" y1="1132.7" x2="958.59" y2="1136.9" stroke="#000" stroke-width="1.1"/><line x1="987.36" y1="1132.7" x2="987.36" y2="1136.9" stroke="#000" stroke-width="1.1"/><line x1="1016.13" y1="1132.7" x2="1016.13" y2="1136.9" stroke="#000" stroke-width="1.1"/><line x1="1044.9" y1="1132.7" x2="1044.9" y2="1138.4" stroke="#000" stroke-width="1.1"/><line x1="1073.67" y1="1132.7" x2="1073.67" y2="1136.9" stroke="#000" stroke-width="1.1"/><line x1="1102.44" y1="1132.7" x2="1102.44" y2="1136.9" stroke="#000" stroke-width="1.1"/><line x1="1131.21" y1="1132.7" x2="1131.21" y2="1136.9" stroke="#000" stroke-width="1.1"/><line x1="1159.98" y1="1132.7" x2="1159.98" y2="1136.9" stroke="#000" stroke-width="1.1"/><line x1="1188.75" y1="1132.7" x2="1188.75" y2="1138.4" stroke="#000" stroke-width="1.1"/><line x1="1217.52" y1="1132.7" x2="1217.52" y2="1136.9" stroke="#000" stroke-width="1.1"/><line x1="1246.29" y1="1132.7" x2="1246.29" y2="1136.9" stroke="#000" stroke-width="1.1"/><line x1="1275.06" y1="1132.7" x2="1275.06" y2="1136.9" stroke="#000" stroke-width="1.1"/><line x1="1303.83" y1="1132.7" x2="1303.83" y2="1136.9" stroke="#000" stroke-width="1.1"/><line x1="1332.6" y1="1132.7" x2="1332.6" y2="1138.4" stroke="#000" stroke-width="1.1"/><rect x="758.2" y="817" width="575.5" height="315.7" fill="none" stroke="#000" stroke-width="3.6"/>
<g font-family="'Liberation Sans', Arial, Helvetica, sans-serif" font-size="18.4" fill="#000" stroke="#000" stroke-width="0.35"><text x="741.6" y="1138.8" text-anchor="end">0</text><text x="741.6" y="1085.88" text-anchor="end">0.2</text><text x="741.6" y="1032.96" text-anchor="end">0.4</text><text x="741.6" y="980.04" text-anchor="end">0.6</text><text x="741.6" y="927.12" text-anchor="end">0.8</text><text x="741.6" y="874.2" text-anchor="end">1</text><text x="741.6" y="821.28" text-anchor="end">1.2</text><text x="757.2" y="1161.1" text-anchor="middle">0</text><text x="901.05" y="1161.1" text-anchor="middle">5</text><text x="1044.9" y="1161.1" text-anchor="middle">10</text><text x="1188.75" y="1161.1" text-anchor="middle">15</text><text x="1332.6" y="1161.1" text-anchor="middle">20</text></g>
<line x1="757.2" y1="1133.4" x2="1303.83" y2="882.03" stroke="#4472C4" stroke-width="5.4" stroke-linecap="round"/>
<rect x="760" y="819.3" width="546.9" height="311.3" fill="#DAE3F3" fill-opacity="0.45"/>
<line x1="1457.8" y1="380.8" x2="1462" y2="380.8" stroke="#000" stroke-width="1.1"/><line x1="1459.3" y1="370.26" x2="1462" y2="370.26" stroke="#000" stroke-width="1.1"/><line x1="1459.3" y1="359.73" x2="1462" y2="359.73" stroke="#000" stroke-width="1.1"/><line x1="1459.3" y1="349.19" x2="1462" y2="349.19" stroke="#000" stroke-width="1.1"/><line x1="1459.3" y1="338.66" x2="1462" y2="338.66" stroke="#000" stroke-width="1.1"/><line x1="1457.8" y1="328.12" x2="1462" y2="328.12" stroke="#000" stroke-width="1.1"/><line x1="1459.3" y1="317.58" x2="1462" y2="317.58" stroke="#000" stroke-width="1.1"/><line x1="1459.3" y1="307.05" x2="1462" y2="307.05" stroke="#000" stroke-width="1.1"/><line x1="1459.3" y1="296.51" x2="1462" y2="296.51" stroke="#000" stroke-width="1.1"/><line x1="1459.3" y1="285.98" x2="1462" y2="285.98" stroke="#000" stroke-width="1.1"/><line x1="1457.8" y1="275.44" x2="1462" y2="275.44" stroke="#000" stroke-width="1.1"/><line x1="1459.3" y1="264.9" x2="1462" y2="264.9" stroke="#000" stroke-width="1.1"/><line x1="1459.3" y1="254.37" x2="1462" y2="254.37" stroke="#000" stroke-width="1.1"/><line x1="1459.3" y1="243.83" x2="1462" y2="243.83" stroke="#000" stroke-width="1.1"/><line x1="1459.3" y1="233.3" x2="1462" y2="233.3" stroke="#000" stroke-width="1.1"/><line x1="1457.8" y1="222.76" x2="1462" y2="222.76" stroke="#000" stroke-width="1.1"/><line x1="1459.3" y1="212.22" x2="1462" y2="212.22" stroke="#000" stroke-width="1.1"/><line x1="1459.3" y1="201.69" x2="1462" y2="201.69" stroke="#000" stroke-width="1.1"/><line x1="1459.3" y1="191.15" x2="1462" y2="191.15" stroke="#000" stroke-width="1.1"/><line x1="1459.3" y1="180.62" x2="1462" y2="180.62" stroke="#000" stroke-width="1.1"/><line x1="1457.8" y1="170.08" x2="1462" y2="170.08" stroke="#000" stroke-width="1.1"/><line x1="1459.3" y1="159.54" x2="1462" y2="159.54" stroke="#000" stroke-width="1.1"/><line x1="1459.3" y1="149.01" x2="1462" y2="149.01" stroke="#000" stroke-width="1.1"/><line x1="1459.3" y1="138.47" x2="1462" y2="138.47" stroke="#000" stroke-width="1.1"/><line x1="1459.3" y1="127.94" x2="1462" y2="127.94" stroke="#000" stroke-width="1.1"/><line x1="1457.8" y1="117.4" x2="1462" y2="117.4" stroke="#000" stroke-width="1.1"/><line x1="1459.3" y1="106.86" x2="1462" y2="106.86" stroke="#000" stroke-width="1.1"/><line x1="1459.3" y1="96.33" x2="1462" y2="96.33" stroke="#000" stroke-width="1.1"/><line x1="1459.3" y1="85.79" x2="1462" y2="85.79" stroke="#000" stroke-width="1.1"/><line x1="1459.3" y1="75.26" x2="1462" y2="75.26" stroke="#000" stroke-width="1.1"/><line x1="1457.8" y1="64.72" x2="1462" y2="64.72" stroke="#000" stroke-width="1.1"/><line x1="1462.8" y1="381.5" x2="1462.8" y2="385.8" stroke="#000" stroke-width="1.1"/><line x1="1485.75" y1="381.5" x2="1485.75" y2="384.3" stroke="#000" stroke-width="1.1"/><line x1="1508.7" y1="381.5" x2="1508.7" y2="384.3" stroke="#000" stroke-width="1.1"/><line x1="1531.64" y1="381.5" x2="1531.64" y2="384.3" stroke="#000" stroke-width="1.1"/><line x1="1554.59" y1="381.5" x2="1554.59" y2="384.3" stroke="#000" stroke-width="1.1"/><line x1="1577.54" y1="381.5" x2="1577.54" y2="385.8" stroke="#000" stroke-width="1.1"/><line x1="1600.49" y1="381.5" x2="1600.49" y2="384.3" stroke="#000" stroke-width="1.1"/><line x1="1623.44" y1="381.5" x2="1623.44" y2="384.3" stroke="#000" stroke-width="1.1"/><line x1="1646.38" y1="381.5" x2="1646.38" y2="384.3" stroke="#000" stroke-width="1.1"/><line x1="1669.33" y1="381.5" x2="1669.33" y2="384.3" stroke="#000" stroke-width="1.1"/><line x1="1692.28" y1="381.5" x2="1692.28" y2="385.8" stroke="#000" stroke-width="1.1"/><line x1="1715.23" y1="381.5" x2="1715.23" y2="384.3" stroke="#000" stroke-width="1.1"/><line x1="1738.18" y1="381.5" x2="1738.18" y2="384.3" stroke="#000" stroke-width="1.1"/><line x1="1761.12" y1="381.5" x2="1761.12" y2="384.3" stroke="#000" stroke-width="1.1"/><line x1="1784.07" y1="381.5" x2="1784.07" y2="384.3" stroke="#000" stroke-width="1.1"/><line x1="1807.02" y1="381.5" x2="1807.02" y2="385.8" stroke="#000" stroke-width="1.1"/><line x1="1829.97" y1="381.5" x2="1829.97" y2="384.3" stroke="#000" stroke-width="1.1"/><line x1="1852.92" y1="381.5" x2="1852.92" y2="384.3" stroke="#000" stroke-width="1.1"/><line x1="1875.86" y1="381.5" x2="1875.86" y2="384.3" stroke="#000" stroke-width="1.1"/><line x1="1898.81" y1="381.5" x2="1898.81" y2="384.3" stroke="#000" stroke-width="1.1"/><line x1="1921.76" y1="381.5" x2="1921.76" y2="385.8" stroke="#000" stroke-width="1.1"/><line x1="1944.71" y1="381.5" x2="1944.71" y2="384.3" stroke="#000" stroke-width="1.1"/><line x1="1967.66" y1="381.5" x2="1967.66" y2="384.3" stroke="#000" stroke-width="1.1"/><line x1="1990.6" y1="381.5" x2="1990.6" y2="384.3" stroke="#000" stroke-width="1.1"/><line x1="2013.55" y1="381.5" x2="2013.55" y2="384.3" stroke="#000" stroke-width="1.1"/><line x1="2036.5" y1="381.5" x2="2036.5" y2="385.8" stroke="#000" stroke-width="1.1"/><rect x="1462" y="64.1" width="575.5" height="317.4" fill="none" stroke="#000" stroke-width="3.6"/>
<g font-family="'Liberation Sans', Arial, Helvetica, sans-serif" font-size="18.4" fill="#000" stroke="#000" stroke-width="0.35"><text x="1446.3" y="386.2" text-anchor="end">0</text><text x="1446.3" y="333.52" text-anchor="end">0.2</text><text x="1446.3" y="280.84" text-anchor="end">0.4</text><text x="1446.3" y="228.16" text-anchor="end">0.6</text><text x="1446.3" y="175.48" text-anchor="end">0.8</text><text x="1446.3" y="122.8" text-anchor="end">1</text><text x="1446.3" y="70.12" text-anchor="end">1.2</text><text x="1462.8" y="408.8" text-anchor="middle">0</text><text x="1577.54" y="408.8" text-anchor="middle">0.2</text><text x="1692.28" y="408.8" text-anchor="middle">0.4</text><text x="1807.02" y="408.8" text-anchor="middle">0.6</text><text x="1921.76" y="408.8" text-anchor="middle">0.8</text><text x="2036.5" y="408.8" text-anchor="middle">1</text></g>
<line x1="1462.8" y1="117.4" x2="2036.5" y2="117.4" stroke="#C00000" stroke-width="5.2"/>
<line x1="1459.7" y1="757.9" x2="1465.8" y2="757.9" stroke="#000" stroke-width="1.1"/><line x1="1461.2" y1="747.31" x2="1465.8" y2="747.31" stroke="#000" stroke-width="1.1"/><line x1="1461.2" y1="736.72" x2="1465.8" y2="736.72" stroke="#000" stroke-width="1.1"/><line x1="1461.2" y1="726.12" x2="1465.8" y2="726.12" stroke="#000" stroke-width="1.1"/><line x1="1461.2" y1="715.53" x2="1465.8" y2="715.53" stroke="#000" stroke-width="1.1"/><line x1="1459.7" y1="704.94" x2="1465.8" y2="704.94" stroke="#000" stroke-width="1.1"/><line x1="1461.2" y1="694.35" x2="1465.8" y2="694.35" stroke="#000" stroke-width="1.1"/><line x1="1461.2" y1="683.76" x2="1465.8" y2="683.76" stroke="#000" stroke-width="1.1"/><line x1="1461.2" y1="673.16" x2="1465.8" y2="673.16" stroke="#000" stroke-width="1.1"/><line x1="1461.2" y1="662.57" x2="1465.8" y2="662.57" stroke="#000" stroke-width="1.1"/><line x1="1459.7" y1="651.98" x2="1465.8" y2="651.98" stroke="#000" stroke-width="1.1"/><line x1="1461.2" y1="641.39" x2="1465.8" y2="641.39" stroke="#000" stroke-width="1.1"/><line x1="1461.2" y1="630.8" x2="1465.8" y2="630.8" stroke="#000" stroke-width="1.1"/><line x1="1461.2" y1="620.2" x2="1465.8" y2="620.2" stroke="#000" stroke-width="1.1"/><line x1="1461.2" y1="609.61" x2="1465.8" y2="609.61" stroke="#000" stroke-width="1.1"/><line x1="1459.7" y1="599.02" x2="1465.8" y2="599.02" stroke="#000" stroke-width="1.1"/><line x1="1461.2" y1="588.43" x2="1465.8" y2="588.43" stroke="#000" stroke-width="1.1"/><line x1="1461.2" y1="577.84" x2="1465.8" y2="577.84" stroke="#000" stroke-width="1.1"/><line x1="1461.2" y1="567.24" x2="1465.8" y2="567.24" stroke="#000" stroke-width="1.1"/><line x1="1461.2" y1="556.65" x2="1465.8" y2="556.65" stroke="#000" stroke-width="1.1"/><line x1="1459.7" y1="546.06" x2="1465.8" y2="546.06" stroke="#000" stroke-width="1.1"/><line x1="1461.2" y1="535.47" x2="1465.8" y2="535.47" stroke="#000" stroke-width="1.1"/><line x1="1461.2" y1="524.88" x2="1465.8" y2="524.88" stroke="#000" stroke-width="1.1"/><line x1="1461.2" y1="514.28" x2="1465.8" y2="514.28" stroke="#000" stroke-width="1.1"/><line x1="1461.2" y1="503.69" x2="1465.8" y2="503.69" stroke="#000" stroke-width="1.1"/><line x1="1459.7" y1="493.1" x2="1465.8" y2="493.1" stroke="#000" stroke-width="1.1"/><line x1="1461.2" y1="482.51" x2="1465.8" y2="482.51" stroke="#000" stroke-width="1.1"/><line x1="1461.2" y1="471.92" x2="1465.8" y2="471.92" stroke="#000" stroke-width="1.1"/><line x1="1461.2" y1="461.32" x2="1465.8" y2="461.32" stroke="#000" stroke-width="1.1"/><line x1="1461.2" y1="450.73" x2="1465.8" y2="450.73" stroke="#000" stroke-width="1.1"/><line x1="1459.7" y1="440.14" x2="1465.8" y2="440.14" stroke="#000" stroke-width="1.1"/><line x1="1464.7" y1="757" x2="1464.7" y2="762.9" stroke="#000" stroke-width="1.1"/><line x1="1487.72" y1="757" x2="1487.72" y2="761.4" stroke="#000" stroke-width="1.1"/><line x1="1510.73" y1="757" x2="1510.73" y2="761.4" stroke="#000" stroke-width="1.1"/><line x1="1533.75" y1="757" x2="1533.75" y2="761.4" stroke="#000" stroke-width="1.1"/><line x1="1556.76" y1="757" x2="1556.76" y2="761.4" stroke="#000" stroke-width="1.1"/><line x1="1579.78" y1="757" x2="1579.78" y2="762.9" stroke="#000" stroke-width="1.1"/><line x1="1602.8" y1="757" x2="1602.8" y2="761.4" stroke="#000" stroke-width="1.1"/><line x1="1625.81" y1="757" x2="1625.81" y2="761.4" stroke="#000" stroke-width="1.1"/><line x1="1648.83" y1="757" x2="1648.83" y2="761.4" stroke="#000" stroke-width="1.1"/><line x1="1671.84" y1="757" x2="1671.84" y2="761.4" stroke="#000" stroke-width="1.1"/><line x1="1694.86" y1="757" x2="1694.86" y2="762.9" stroke="#000" stroke-width="1.1"/><line x1="1717.88" y1="757" x2="1717.88" y2="761.4" stroke="#000" stroke-width="1.1"/><line x1="1740.89" y1="757" x2="1740.89" y2="761.4" stroke="#000" stroke-width="1.1"/><line x1="1763.91" y1="757" x2="1763.91" y2="761.4" stroke="#000" stroke-width="1.1"/><line x1="1786.92" y1="757" x2="1786.92" y2="761.4" stroke="#000" stroke-width="1.1"/><line x1="1809.94" y1="757" x2="1809.94" y2="762.9" stroke="#000" stroke-width="1.1"/><line x1="1832.96" y1="757" x2="1832.96" y2="761.4" stroke="#000" stroke-width="1.1"/><line x1="1855.97" y1="757" x2="1855.97" y2="761.4" stroke="#000" stroke-width="1.1"/><line x1="1878.99" y1="757" x2="1878.99" y2="761.4" stroke="#000" stroke-width="1.1"/><line x1="1902" y1="757" x2="1902" y2="761.4" stroke="#000" stroke-width="1.1"/><line x1="1925.02" y1="757" x2="1925.02" y2="762.9" stroke="#000" stroke-width="1.1"/><line x1="1948.04" y1="757" x2="1948.04" y2="761.4" stroke="#000" stroke-width="1.1"/><line x1="1971.05" y1="757" x2="1971.05" y2="761.4" stroke="#000" stroke-width="1.1"/><line x1="1994.07" y1="757" x2="1994.07" y2="761.4" stroke="#000" stroke-width="1.1"/><line x1="2017.08" y1="757" x2="2017.08" y2="761.4" stroke="#000" stroke-width="1.1"/><line x1="2040.1" y1="757" x2="2040.1" y2="762.9" stroke="#000" stroke-width="1.1"/><rect x="1465.8" y="439.4" width="573.6" height="317.6" fill="none" stroke="#000" stroke-width="3.6"/>
<g font-family="'Liberation Sans', Arial, Helvetica, sans-serif" font-size="18.4" fill="#000" stroke="#000" stroke-width="0.35"><text x="1448.5" y="763.3" text-anchor="end">0</text><text x="1448.5" y="710.34" text-anchor="end">0.2</text><text x="1448.5" y="657.38" text-anchor="end">0.4</text><text x="1448.5" y="604.42" text-anchor="end">0.6</text><text x="1448.5" y="551.46" text-anchor="end">0.8</text><text x="1448.5" y="498.5" text-anchor="end">1</text><text x="1448.5" y="445.54" text-anchor="end">1.2</text><text x="1464.7" y="784.9" text-anchor="middle">0</text><text x="1579.78" y="784.9" text-anchor="middle">0.2</text><text x="1694.86" y="784.9" text-anchor="middle">0.4</text><text x="1809.94" y="784.9" text-anchor="middle">0.6</text><text x="1925.02" y="784.9" text-anchor="middle">0.8</text><text x="2040.1" y="784.9" text-anchor="middle">1</text></g>
<polyline points="1464.7,520.9 1466.16,517.81 1467.63,514.95 1469.09,512.32 1470.55,509.92 1472.01,507.74 1473.48,505.78 1474.94,504.01 1476.4,502.44 1477.87,501.05 1479.33,499.82 1480.79,498.75 1482.25,497.82 1483.72,497.02 1485.18,496.34 1486.64,495.75 1488.11,495.26 1489.57,494.85 1491.03,494.51 1492.49,494.22 1493.96,493.99 1495.42,493.8 1496.88,493.65 1498.35,493.53 1499.81,493.43 1501.27,493.35 1502.73,493.29 1504.2,493.24 1505.66,493.21 1507.12,493.18 1508.59,493.16 1510.05,493.14 1511.51,493.13 1512.98,493.12 1514.44,493.12 1515.9,493.11 1517.36,493.11 1518.83,493.11 1520.29,493.1 1521.75,493.1 1523.22,493.1 1524.68,493.1 1526.14,493.1 1527.6,493.1 1529.07,493.1 1530.53,493.1 1531.99,493.1 1533.46,493.1 1534.92,493.1 1536.38,493.1 1537.84,493.1 1539.31,493.1 1540.77,493.1 1542.23,493.1 1543.7,493.1 1545.16,493.1 1546.62,493.1 1548.08,493.1 1549.55,493.1 1551.01,493.1 2040.1,493.1" fill="none" stroke="#C00000" stroke-width="5.2" stroke-linejoin="round"/>
<rect x="1466.2" y="441.4" width="26.7" height="313.8" fill="#F9E0D3" fill-opacity="0.35"/>
<clipPath id="cpb"><rect x="1466.2" y="441.4" width="26.7" height="313.8"/></clipPath>
<polyline clip-path="url(#cpb)" points="1464.7,520.9 1466.16,517.81 1467.63,514.95 1469.09,512.32 1470.55,509.92 1472.01,507.74 1473.48,505.78 1474.94,504.01 1476.4,502.44 1477.87,501.05 1479.33,499.82 1480.79,498.75 1482.25,497.82 1483.72,497.02 1485.18,496.34 1486.64,495.75 1488.11,495.26 1489.57,494.85 1491.03,494.51 1492.49,494.22 1493.96,493.99 1495.42,493.8 1496.88,493.65 1498.35,493.53 1499.81,493.43 1501.27,493.35 1502.73,493.29 1504.2,493.24 1505.66,493.21 1507.12,493.18 1508.59,493.16 1510.05,493.14 1511.51,493.13 1512.98,493.12 1514.44,493.12 1515.9,493.11 1517.36,493.11 1518.83,493.11 1520.29,493.1 1521.75,493.1 1523.22,493.1 1524.68,493.1 1526.14,493.1 1527.6,493.1 1529.07,493.1 1530.53,493.1 1531.99,493.1 1533.46,493.1 1534.92,493.1 1536.38,493.1 1537.84,493.1 1539.31,493.1 1540.77,493.1 1542.23,493.1 1543.7,493.1 1545.16,493.1 1546.62,493.1 1548.08,493.1 1549.55,493.1 1551.01,493.1 2040.1,493.1" fill="none" stroke="#DA6848" stroke-width="5.2" stroke-linejoin="round"/>
<line x1="1457.9" y1="1133.4" x2="1463.9" y2="1133.4" stroke="#000" stroke-width="1.1"/><line x1="1459.4" y1="1122.85" x2="1463.9" y2="1122.85" stroke="#000" stroke-width="1.1"/><line x1="1459.4" y1="1112.3" x2="1463.9" y2="1112.3" stroke="#000" stroke-width="1.1"/><line x1="1459.4" y1="1101.74" x2="1463.9" y2="1101.74" stroke="#000" stroke-width="1.1"/><line x1="1459.4" y1="1091.19" x2="1463.9" y2="1091.19" stroke="#000" stroke-width="1.1"/><line x1="1457.9" y1="1080.64" x2="1463.9" y2="1080.64" stroke="#000" stroke-width="1.1"/><line x1="1459.4" y1="1070.09" x2="1463.9" y2="1070.09" stroke="#000" stroke-width="1.1"/><line x1="1459.4" y1="1059.54" x2="1463.9" y2="1059.54" stroke="#000" stroke-width="1.1"/><line x1="1459.4" y1="1048.98" x2="1463.9" y2="1048.98" stroke="#000" stroke-width="1.1"/><line x1="1459.4" y1="1038.43" x2="1463.9" y2="1038.43" stroke="#000" stroke-width="1.1"/><line x1="1457.9" y1="1027.88" x2="1463.9" y2="1027.88" stroke="#000" stroke-width="1.1"/><line x1="1459.4" y1="1017.33" x2="1463.9" y2="1017.33" stroke="#000" stroke-width="1.1"/><line x1="1459.4" y1="1006.78" x2="1463.9" y2="1006.78" stroke="#000" stroke-width="1.1"/><line x1="1459.4" y1="996.22" x2="1463.9" y2="996.22" stroke="#000" stroke-width="1.1"/><line x1="1459.4" y1="985.67" x2="1463.9" y2="985.67" stroke="#000" stroke-width="1.1"/><line x1="1457.9" y1="975.12" x2="1463.9" y2="975.12" stroke="#000" stroke-width="1.1"/><line x1="1459.4" y1="964.57" x2="1463.9" y2="964.57" stroke="#000" stroke-width="1.1"/><line x1="1459.4" y1="954.02" x2="1463.9" y2="954.02" stroke="#000" stroke-width="1.1"/><line x1="1459.4" y1="943.46" x2="1463.9" y2="943.46" stroke="#000" stroke-width="1.1"/><line x1="1459.4" y1="932.91" x2="1463.9" y2="932.91" stroke="#000" stroke-width="1.1"/><line x1="1457.9" y1="922.36" x2="1463.9" y2="922.36" stroke="#000" stroke-width="1.1"/><line x1="1459.4" y1="911.81" x2="1463.9" y2="911.81" stroke="#000" stroke-width="1.1"/><line x1="1459.4" y1="901.26" x2="1463.9" y2="901.26" stroke="#000" stroke-width="1.1"/><line x1="1459.4" y1="890.7" x2="1463.9" y2="890.7" stroke="#000" stroke-width="1.1"/><line x1="1459.4" y1="880.15" x2="1463.9" y2="880.15" stroke="#000" stroke-width="1.1"/><line x1="1457.9" y1="869.6" x2="1463.9" y2="869.6" stroke="#000" stroke-width="1.1"/><line x1="1459.4" y1="859.05" x2="1463.9" y2="859.05" stroke="#000" stroke-width="1.1"/><line x1="1459.4" y1="848.5" x2="1463.9" y2="848.5" stroke="#000" stroke-width="1.1"/><line x1="1459.4" y1="837.94" x2="1463.9" y2="837.94" stroke="#000" stroke-width="1.1"/><line x1="1459.4" y1="827.39" x2="1463.9" y2="827.39" stroke="#000" stroke-width="1.1"/><line x1="1457.9" y1="816.84" x2="1463.9" y2="816.84" stroke="#000" stroke-width="1.1"/><line x1="1462.9" y1="1134.1" x2="1462.9" y2="1138.4" stroke="#000" stroke-width="1.1"/><line x1="1485.92" y1="1134.1" x2="1485.92" y2="1136.9" stroke="#000" stroke-width="1.1"/><line x1="1508.94" y1="1134.1" x2="1508.94" y2="1136.9" stroke="#000" stroke-width="1.1"/><line x1="1531.96" y1="1134.1" x2="1531.96" y2="1136.9" stroke="#000" stroke-width="1.1"/><line x1="1554.98" y1="1134.1" x2="1554.98" y2="1136.9" stroke="#000" stroke-width="1.1"/><line x1="1578" y1="1134.1" x2="1578" y2="1138.4" stroke="#000" stroke-width="1.1"/><line x1="1601.02" y1="1134.1" x2="1601.02" y2="1136.9" stroke="#000" stroke-width="1.1"/><line x1="1624.04" y1="1134.1" x2="1624.04" y2="1136.9" stroke="#000" stroke-width="1.1"/><line x1="1647.06" y1="1134.1" x2="1647.06" y2="1136.9" stroke="#000" stroke-width="1.1"/><line x1="1670.08" y1="1134.1" x2="1670.08" y2="1136.9" stroke="#000" stroke-width="1.1"/><line x1="1693.1" y1="1134.1" x2="1693.1" y2="1138.4" stroke="#000" stroke-width="1.1"/><line x1="1716.12" y1="1134.1" x2="1716.12" y2="1136.9" stroke="#000" stroke-width="1.1"/><line x1="1739.14" y1="1134.1" x2="1739.14" y2="1136.9" stroke="#000" stroke-width="1.1"/><line x1="1762.16" y1="1134.1" x2="1762.16" y2="1136.9" stroke="#000" stroke-width="1.1"/><line x1="1785.18" y1="1134.1" x2="1785.18" y2="1136.9" stroke="#000" stroke-width="1.1"/><line x1="1808.2" y1="1134.1" x2="1808.2" y2="1138.4" stroke="#000" stroke-width="1.1"/><line x1="1831.22" y1="1134.1" x2="1831.22" y2="1136.9" stroke="#000" stroke-width="1.1"/><line x1="1854.24" y1="1134.1" x2="1854.24" y2="1136.9" stroke="#000" stroke-width="1.1"/><line x1="1877.26" y1="1134.1" x2="1877.26" y2="1136.9" stroke="#000" stroke-width="1.1"/><line x1="1900.28" y1="1134.1" x2="1900.28" y2="1136.9" stroke="#000" stroke-width="1.1"/><line x1="1923.3" y1="1134.1" x2="1923.3" y2="1138.4" stroke="#000" stroke-width="1.1"/><line x1="1946.32" y1="1134.1" x2="1946.32" y2="1136.9" stroke="#000" stroke-width="1.1"/><line x1="1969.34" y1="1134.1" x2="1969.34" y2="1136.9" stroke="#000" stroke-width="1.1"/><line x1="1992.36" y1="1134.1" x2="1992.36" y2="1136.9" stroke="#000" stroke-width="1.1"/><line x1="2015.38" y1="1134.1" x2="2015.38" y2="1136.9" stroke="#000" stroke-width="1.1"/><line x1="2038.4" y1="1134.1" x2="2038.4" y2="1138.4" stroke="#000" stroke-width="1.1"/><rect x="1463.9" y="816.2" width="573.6" height="317.9" fill="none" stroke="#000" stroke-width="3.6"/>
<g font-family="'Liberation Sans', Arial, Helvetica, sans-serif" font-size="18.4" fill="#000" stroke="#000" stroke-width="0.35"><text x="1447" y="1138.8" text-anchor="end">0</text><text x="1447" y="1086.04" text-anchor="end">0.2</text><text x="1447" y="1033.28" text-anchor="end">0.4</text><text x="1447" y="980.52" text-anchor="end">0.6</text><text x="1447" y="927.76" text-anchor="end">0.8</text><text x="1447" y="875" text-anchor="end">1</text><text x="1447" y="822.24" text-anchor="end">1.2</text><text x="1462.9" y="1161.1" text-anchor="middle">0</text><text x="1578" y="1161.1" text-anchor="middle">0.2</text><text x="1693.1" y="1161.1" text-anchor="middle">0.4</text><text x="1808.2" y="1161.1" text-anchor="middle">0.6</text><text x="1923.3" y="1161.1" text-anchor="middle">0.8</text><text x="2038.4" y="1161.1" text-anchor="middle">1</text></g>
<polyline points="1462.9,908.38 1464.36,905.44 1465.83,902.65 1467.29,900.01 1468.75,897.51 1470.22,895.16 1471.68,892.95 1473.14,890.88 1474.61,888.95 1476.07,887.15 1477.53,885.47 1478.99,883.92 1480.46,882.49 1481.92,881.16 1483.38,879.95 1484.85,878.84 1486.31,877.83 1487.77,876.9 1489.24,876.06 1490.7,875.31 1492.16,874.62 1493.63,874.01 1495.09,873.46 1496.55,872.97 1498.02,872.53 1499.48,872.14 1500.94,871.8 1502.4,871.49 1503.87,871.23 1505.33,871 1506.79,870.79 1508.26,870.62 1509.72,870.46 1511.18,870.33 1512.65,870.22 1514.11,870.12 1515.57,870.03 1517.04,869.96 1518.5,869.9 1519.96,869.85 1521.43,869.81 1522.89,869.77 1524.35,869.74 1525.81,869.72 1527.28,869.69 1528.74,869.68 1530.2,869.66 1531.67,869.65 1533.13,869.64 1534.59,869.63 1536.06,869.63 1537.52,869.62 1538.98,869.62 1540.45,869.61 1541.91,869.61 1543.37,869.61 1544.84,869.61 1546.3,869.6 1547.76,869.6 1549.23,869.6 2038.4,869.6" fill="none" stroke="#C00000" stroke-width="5.2" stroke-linejoin="round"/>
<rect x="1464.6" y="820" width="43.5" height="312.3" fill="#F9E0D3" fill-opacity="0.35"/>
<clipPath id="cpc"><rect x="1465.8" y="820" width="42.3" height="312.3"/></clipPath>
<polyline clip-path="url(#cpc)" points="1462.9,908.38 1464.36,905.44 1465.83,902.65 1467.29,900.01 1468.75,897.51 1470.22,895.16 1471.68,892.95 1473.14,890.88 1474.61,888.95 1476.07,887.15 1477.53,885.47 1478.99,883.92 1480.46,882.49 1481.92,881.16 1483.38,879.95 1484.85,878.84 1486.31,877.83 1487.77,876.9 1489.24,876.06 1490.7,875.31 1492.16,874.62 1493.63,874.01 1495.09,873.46 1496.55,872.97 1498.02,872.53 1499.48,872.14 1500.94,871.8 1502.4,871.49 1503.87,871.23 1505.33,871 1506.79,870.79 1508.26,870.62 1509.72,870.46 1511.18,870.33 1512.65,870.22 1514.11,870.12 1515.57,870.03 1517.04,869.96 1518.5,869.9 1519.96,869.85 1521.43,869.81 1522.89,869.77 1524.35,869.74 1525.81,869.72 1527.28,869.69 1528.74,869.68 1530.2,869.66 1531.67,869.65 1533.13,869.64 1534.59,869.63 1536.06,869.63 1537.52,869.62 1538.98,869.62 1540.45,869.61 1541.91,869.61 1543.37,869.61 1544.84,869.61 1546.3,869.6 1547.76,869.6 1549.23,869.6 2038.4,869.6" fill="none" stroke="#DA6848" stroke-width="5.2" stroke-linejoin="round"/>
<text transform="translate(664.86,221.64) scale(0.861,1)" font-family="'Liberation Serif', 'Times New Roman', Times, serif" font-style="italic" font-size="35.61" fill="#000" stroke="#000" stroke-width="0.3">C</text><text transform="translate(685.67,228.43) scale(1.203,1)" font-family="'Liberation Serif', 'Times New Roman', Times, serif" font-style="italic" font-size="27.08" fill="#000" stroke="#000" stroke-width="0.3">s</text><text transform="translate(663.17,272.55) scale(0.860,1)" font-family="'Liberation Serif', 'Times New Roman', Times, serif" font-style="italic" font-size="35.45" fill="#000" stroke="#000" stroke-width="0.3">C</text><text transform="translate(687.69,259.83) scale(1.181,1)" font-family="'Liberation Serif', 'Times New Roman', Times, serif" font-style="normal" font-size="23.58" fill="#000" stroke="#000" stroke-width="0.3">0</text><text transform="translate(684.51,278.93) scale(1.087,1)" font-family="'Liberation Serif', 'Times New Roman', Times, serif" font-style="italic" font-size="27.08" fill="#000" stroke="#000" stroke-width="0.3">s</text><line x1="664" y1="237.1" x2="702.8" y2="237.1" stroke="#000" stroke-width="1.8"/>
<text transform="translate(664.56,597.64) scale(0.861,1)" font-family="'Liberation Serif', 'Times New Roman', Times, serif" font-style="italic" font-size="35.61" fill="#000" stroke="#000" stroke-width="0.3">C</text><text transform="translate(685.37,604.43) scale(1.203,1)" font-family="'Liberation Serif', 'Times New Roman', Times, serif" font-style="italic" font-size="27.08" fill="#000" stroke="#000" stroke-width="0.3">s</text><text transform="translate(662.87,648.55) scale(0.860,1)" font-family="'Liberation Serif', 'Times New Roman', Times, serif" font-style="italic" font-size="35.45" fill="#000" stroke="#000" stroke-width="0.3">C</text><text transform="translate(687.39,635.83) scale(1.181,1)" font-family="'Liberation Serif', 'Times New Roman', Times, serif" font-style="normal" font-size="23.58" fill="#000" stroke="#000" stroke-width="0.3">0</text><text transform="translate(684.21,654.93) scale(1.087,1)" font-family="'Liberation Serif', 'Times New Roman', Times, serif" font-style="italic" font-size="27.08" fill="#000" stroke="#000" stroke-width="0.3">s</text><line x1="663.7" y1="613.1" x2="702.5" y2="613.1" stroke="#000" stroke-width="1.8"/>
<text transform="translate(664.66,964.34) scale(0.861,1)" font-family="'Liberation Serif', 'Times New Roman', Times, serif" font-style="italic" font-size="35.61" fill="#000" stroke="#000" stroke-width="0.3">C</text><text transform="translate(685.47,971.13) scale(1.203,1)" font-family="'Liberation Serif', 'Times New Roman', Times, serif" font-style="italic" font-size="27.08" fill="#000" stroke="#000" stroke-width="0.3">s</text><text transform="translate(662.97,1015.25) scale(0.860,1)" font-family="'Liberation Serif', 'Times New Roman', Times, serif" font-style="italic" font-size="35.45" fill="#000" stroke="#000" stroke-width="0.3">C</text><text transform="translate(687.49,1002.53) scale(1.181,1)" font-family="'Liberation Serif', 'Times New Roman', Times, serif" font-style="normal" font-size="23.58" fill="#000" stroke="#000" stroke-width="0.3">0</text><text transform="translate(684.31,1021.63) scale(1.087,1)" font-family="'Liberation Serif', 'Times New Roman', Times, serif" font-style="italic" font-size="27.08" fill="#000" stroke="#000" stroke-width="0.3">s</text><line x1="663.8" y1="979.8" x2="702.6" y2="979.8" stroke="#000" stroke-width="1.8"/>
<text transform="translate(1369.51,223.44) scale(0.838,1)" font-family="'Liberation Serif', 'Times New Roman', Times, serif" font-style="italic" font-size="35.61" fill="#000" stroke="#000" stroke-width="0.3">C</text><text transform="translate(1386.72,230.10) scale(1.000,1)" font-family="'Liberation Mono', 'Courier New', monospace" font-style="italic" font-size="23.42" fill="#000" stroke="#000" stroke-width="0.3">l</text><text transform="translate(1366.26,273.95) scale(0.864,1)" font-family="'Liberation Serif', 'Times New Roman', Times, serif" font-style="italic" font-size="35.45" fill="#000" stroke="#000" stroke-width="0.3">C</text><text transform="translate(1390.88,261.63) scale(1.199,1)" font-family="'Liberation Serif', 'Times New Roman', Times, serif" font-style="normal" font-size="23.43" fill="#000" stroke="#000" stroke-width="0.3">0</text><text transform="translate(1383.29,284.30) scale(0.893,1)" font-family="'Liberation Mono', 'Courier New', monospace" font-style="italic" font-size="27.26" fill="#000" stroke="#000" stroke-width="0.3">l</text><line x1="1366.3" y1="239.4" x2="1405.6" y2="239.4" stroke="#000" stroke-width="1.8"/>
<text transform="translate(1369.41,598.84) scale(0.838,1)" font-family="'Liberation Serif', 'Times New Roman', Times, serif" font-style="italic" font-size="35.61" fill="#000" stroke="#000" stroke-width="0.3">C</text><text transform="translate(1386.62,605.50) scale(1.000,1)" font-family="'Liberation Mono', 'Courier New', monospace" font-style="italic" font-size="23.42" fill="#000" stroke="#000" stroke-width="0.3">l</text><text transform="translate(1366.16,649.35) scale(0.864,1)" font-family="'Liberation Serif', 'Times New Roman', Times, serif" font-style="italic" font-size="35.45" fill="#000" stroke="#000" stroke-width="0.3">C</text><text transform="translate(1390.78,637.03) scale(1.199,1)" font-family="'Liberation Serif', 'Times New Roman', Times, serif" font-style="normal" font-size="23.43" fill="#000" stroke="#000" stroke-width="0.3">0</text><text transform="translate(1383.19,659.70) scale(0.893,1)" font-family="'Liberation Mono', 'Courier New', monospace" font-style="italic" font-size="27.26" fill="#000" stroke="#000" stroke-width="0.3">l</text><line x1="1366.2" y1="614.8" x2="1405.5" y2="614.8" stroke="#000" stroke-width="1.8"/>
<text transform="translate(1369.41,967.24) scale(0.838,1)" font-family="'Liberation Serif', 'Times New Roman', Times, serif" font-style="italic" font-size="35.61" fill="#000" stroke="#000" stroke-width="0.3">C</text><text transform="translate(1386.62,973.90) scale(1.000,1)" font-family="'Liberation Mono', 'Courier New', monospace" font-style="italic" font-size="23.42" fill="#000" stroke="#000" stroke-width="0.3">l</text><text transform="translate(1366.16,1017.75) scale(0.864,1)" font-family="'Liberation Serif', 'Times New Roman', Times, serif" font-style="italic" font-size="35.45" fill="#000" stroke="#000" stroke-width="0.3">C</text><text transform="translate(1390.78,1005.43) scale(1.199,1)" font-family="'Liberation Serif', 'Times New Roman', Times, serif" font-style="normal" font-size="23.43" fill="#000" stroke="#000" stroke-width="0.3">0</text><text transform="translate(1383.19,1028.10) scale(0.893,1)" font-family="'Liberation Mono', 'Courier New', monospace" font-style="italic" font-size="27.26" fill="#000" stroke="#000" stroke-width="0.3">l</text><line x1="1366.2" y1="983.2" x2="1405.5" y2="983.2" stroke="#000" stroke-width="1.8"/>
<line x1="1182.6" y1="96.5" x2="1231" y2="96.5" stroke="#4472C4" stroke-width="2.6" stroke-dasharray="8.2 2.4"/>
<text x="1234.3" y="104.6" font-family="'Liberation Sans', Arial, Helvetica, sans-serif" font-size="23.5" fill="#595959" stroke="#595959" stroke-width="0.35">0 s</text>
<line x1="1182.6" y1="131.8" x2="1231" y2="131.8" stroke="#ED7D31" stroke-width="2.6" stroke-dasharray="8.2 2.4"/>
<text x="1234.3" y="139.9" font-family="'Liberation Sans', Arial, Helvetica, sans-serif" font-size="23.5" fill="#595959" stroke="#595959" stroke-width="0.35">0.01 s</text>
<line x1="1182.6" y1="169.8" x2="1231" y2="169.8" stroke="#A5A5A5" stroke-width="2.6" stroke-dasharray="8.2 2.4"/>
<text x="1234.3" y="177.9" font-family="'Liberation Sans', Arial, Helvetica, sans-serif" font-size="23.5" fill="#595959" stroke="#595959" stroke-width="0.35">0.1 s</text>
<line x1="1182.6" y1="206" x2="1231" y2="206" stroke="#FFC000" stroke-width="2.6" stroke-dasharray="8.2 2.4"/>
<text x="1234.3" y="214.1" font-family="'Liberation Sans', Arial, Helvetica, sans-serif" font-size="23.5" fill="#595959" stroke="#595959" stroke-width="0.35">0.3 s</text>
<line x1="1182.6" y1="242.8" x2="1231" y2="242.8" stroke="#5B9BD5" stroke-width="2.6" stroke-dasharray="8.2 2.4"/>
<text x="1234.3" y="250.9" font-family="'Liberation Sans', Arial, Helvetica, sans-serif" font-size="23.5" fill="#595959" stroke="#595959" stroke-width="0.35">0.6 s</text>
<line x1="1182.6" y1="280.4" x2="1231" y2="280.4" stroke="#70AD47" stroke-width="2.6" stroke-dasharray="8.2 2.4"/>
<text x="1234.3" y="288.5" font-family="'Liberation Sans', Arial, Helvetica, sans-serif" font-size="23.5" fill="#595959" stroke="#595959" stroke-width="0.35">1 s</text>
<line x1="1182.6" y1="316.5" x2="1231" y2="316.5" stroke="#264478" stroke-width="2.6" stroke-dasharray="8.2 2.4"/>
<text x="1234.3" y="324.6" font-family="'Liberation Sans', Arial, Helvetica, sans-serif" font-size="23.5" fill="#595959" stroke="#595959" stroke-width="0.35">1.5 s</text>
<line x1="1185" y1="353.4" x2="1231" y2="353.4" stroke="#4472C4" stroke-width="5.2" stroke-linecap="round"/>
<text x="1234.3" y="361.5" font-family="'Liberation Sans', Arial, Helvetica, sans-serif" font-size="23.5" fill="#595959" stroke="#595959" stroke-width="0.35">2 s</text>
<text transform="translate(811.75,275.70) rotate(-22.5)" font-family="'Liberation Sans', Arial, Helvetica, sans-serif" font-size="31.00" fill="#000" stroke="#000" stroke-width="0.35"><tspan font-family="'Liberation Serif', 'Times New Roman', Times, serif" font-style="italic">i</tspan><tspan dx="3.00"> = 0.5 mA/cm</tspan><tspan font-size="19.84" dy="-11.47">2</tspan></text>
<text transform="translate(873.10,688.45) rotate(-23.5)" font-family="'Liberation Sans', Arial, Helvetica, sans-serif" font-size="31.00" fill="#000" stroke="#000" stroke-width="0.35"><tspan font-family="'Liberation Serif', 'Times New Roman', Times, serif" font-style="italic">i</tspan><tspan dx="3.00"> = 0.5 mA/cm</tspan><tspan font-size="19.84" dy="-11.47">2</tspan></text>
<text transform="translate(941.75,1088.95) rotate(-24.0)" font-family="'Liberation Sans', Arial, Helvetica, sans-serif" font-size="31.00" fill="#000" stroke="#000" stroke-width="0.35"><tspan font-family="'Liberation Serif', 'Times New Roman', Times, serif" font-style="italic">i</tspan><tspan dx="3.00"> = 0.5 mA/cm</tspan><tspan font-size="19.84" dy="-11.47">2</tspan></text>
<text transform="translate(894.98,365.50) scale(0.872,1)" font-family="'Liberation Serif', 'Times New Roman', Times, serif" font-style="italic" font-size="31.54" fill="#000" stroke="#000" stroke-width="0.3">L</text><text x="918.9" y="365.5" font-family="'Liberation Sans', Arial, Helvetica, sans-serif" font-size="31.3" fill="#000" stroke="#000" stroke-width="0.35">= 10 nm</text>
<text transform="translate(1041.28,742.40) scale(0.876,1)" font-family="'Liberation Serif', 'Times New Roman', Times, serif" font-style="italic" font-size="31.38" fill="#000" stroke="#000" stroke-width="0.3">L</text><text x="1065.2" y="742.3" font-family="'Liberation Sans', Arial, Helvetica, sans-serif" font-size="31.3" fill="#000" stroke="#000" stroke-width="0.35">= 15 nm</text>
<text transform="translate(1157.18,1116.70) scale(0.872,1)" font-family="'Liberation Serif', 'Times New Roman', Times, serif" font-style="italic" font-size="31.54" fill="#000" stroke="#000" stroke-width="0.3">L</text><text x="1181.1" y="1116.6" font-family="'Liberation Sans', Arial, Helvetica, sans-serif" font-size="31.3" fill="#000" stroke="#000" stroke-width="0.35">= 19 nm</text>
<g fill="#4472C4"><rect x="1190.1" y="583.5" width="1.8" height="27.2"/><rect x="1193.6" y="583.5" width="3.2" height="27.2"/><polygon points="1198.7,583.5 1228.1,583.5 1228.1,570 1291,597.1 1228.1,624.2 1228.1,610.7 1198.7,610.7"/></g>
<g fill="#D6603F"><rect x="1493.1" y="583.5" width="1.8" height="27.2"/><rect x="1496.6" y="583.5" width="3.2" height="27.2"/><polygon points="1501.5,583.5 1533.2,583.5 1533.2,570 1596,597.1 1533.2,624.2 1533.2,610.7 1501.5,610.7"/></g>
<text font-family="'Liberation Sans', Arial, Helvetica, sans-serif" font-size="34" fill="#2F5597" stroke="#2F5597" stroke-width="0.35"><tspan x="1198.8" y="666.5">SEI</tspan><tspan x="1199.2" y="707.1">growth</tspan></text>
<text font-family="'Liberation Sans', Arial, Helvetica, sans-serif" font-size="34" fill="#C00000" stroke="#C00000" stroke-width="0.35"><tspan x="1505.5" y="666.3">boundary layer</tspan><tspan x="1505.5" y="706.7">development</tspan></text>
<text transform="translate(774.37,960.68) scale(1.300,1)" font-family="'Liberation Mono', 'Courier New', monospace" font-style="italic" font-size="31.79" fill="#000" stroke="#000" stroke-width="0.3">t</text>
<text transform="translate(807.80,964.18) scale(1.090,1)" font-family="'Liberation Serif', 'Times New Roman', Times, serif" font-style="normal" font-size="40.40" fill="#000" stroke="#000" stroke-width="0.3">=</text>
<text transform="translate(838.82,960.68) scale(1.300,1)" font-family="'Liberation Mono', 'Courier New', monospace" font-style="italic" font-size="31.79" fill="#000" stroke="#000" stroke-width="0.3">t</text>
<text transform="translate(865.71,947.70) scale(0.839,1)" font-family="'Liberation Serif', 'Times New Roman', Times, serif" font-style="normal" font-size="27.23" fill="#000" stroke="#000" stroke-width="0.3">Li</text>
<text transform="translate(859.52,968.99) scale(1.165,1)" font-family="'Liberation Serif', 'Times New Roman', Times, serif" font-style="normal" font-size="25.49" fill="#000" stroke="#000" stroke-width="0.3">Sand</text>
<text x="777.4" y="1003.3" font-family="'Liberation Sans', Arial, Helvetica, sans-serif" font-size="33.5" fill="#000" stroke="#000" stroke-width="0.35">when</text>
<text transform="translate(867.79,1003.25) scale(0.851,1)" font-family="'Liberation Serif', 'Times New Roman', Times, serif" font-style="italic" font-size="35.45" fill="#000" stroke="#000" stroke-width="0.3">C</text>
<text transform="translate(888.98,1009.72) scale(1.155,1)" font-family="'Liberation Serif', 'Times New Roman', Times, serif" font-style="italic" font-size="27.71" fill="#000" stroke="#000" stroke-width="0.3">s</text>
<text transform="translate(912.13,1006.78) scale(1.122,1)" font-family="'Liberation Serif', 'Times New Roman', Times, serif" font-style="normal" font-size="40.40" fill="#000" stroke="#000" stroke-width="0.3">=</text>
<text transform="translate(946.48,1003.10) scale(1.007,1)" font-family="'Liberation Serif', 'Times New Roman', Times, serif" font-style="normal" font-size="35.22" fill="#000" stroke="#000" stroke-width="0.3">0</text>
<text x="777.6" y="1044.1" font-family="'Liberation Sans', Arial, Helvetica, sans-serif" font-size="33.5" fill="#000" stroke="#000" stroke-width="0.35">at</text>
<text transform="translate(817.31,1044.10) scale(1.152,1)" font-family="'Liberation Serif', 'Times New Roman', Times, serif" font-style="italic" font-size="35.87" fill="#000" stroke="#000" stroke-width="0.3">x</text>
<text transform="translate(846.03,1047.68) scale(1.122,1)" font-family="'Liberation Serif', 'Times New Roman', Times, serif" font-style="normal" font-size="40.40" fill="#000" stroke="#000" stroke-width="0.3">=</text>
<text transform="translate(881.99,1043.59) scale(1.061,1)" font-family="'Liberation Serif', 'Times New Roman', Times, serif" font-style="normal" font-size="35.67" fill="#000" stroke="#000" stroke-width="0.3">0</text>
<text transform="translate(980.33,1209.90) scale(1.188,1)" font-family="'Liberation Serif', 'Times New Roman', Times, serif" font-style="italic" font-size="36.09" fill="#000" stroke="#000" stroke-width="0.3">x</text>
<text x="1011.9" y="1209.2" font-family="'Liberation Sans', Arial, Helvetica, sans-serif" font-size="34.3" fill="#000" stroke="#000" stroke-width="0.35">(nm)</text>
<text transform="translate(1688.33,1213.10) scale(1.181,1)" font-family="'Liberation Serif', 'Times New Roman', Times, serif" font-style="italic" font-size="36.30" fill="#000" stroke="#000" stroke-width="0.3">x</text>
<text x="1719.5" y="1212.9" font-family="'Liberation Sans', Arial, Helvetica, sans-serif" font-size="34.3" fill="#000" stroke="#000" stroke-width="0.35">(cm)</text>
</svg></body></html>
